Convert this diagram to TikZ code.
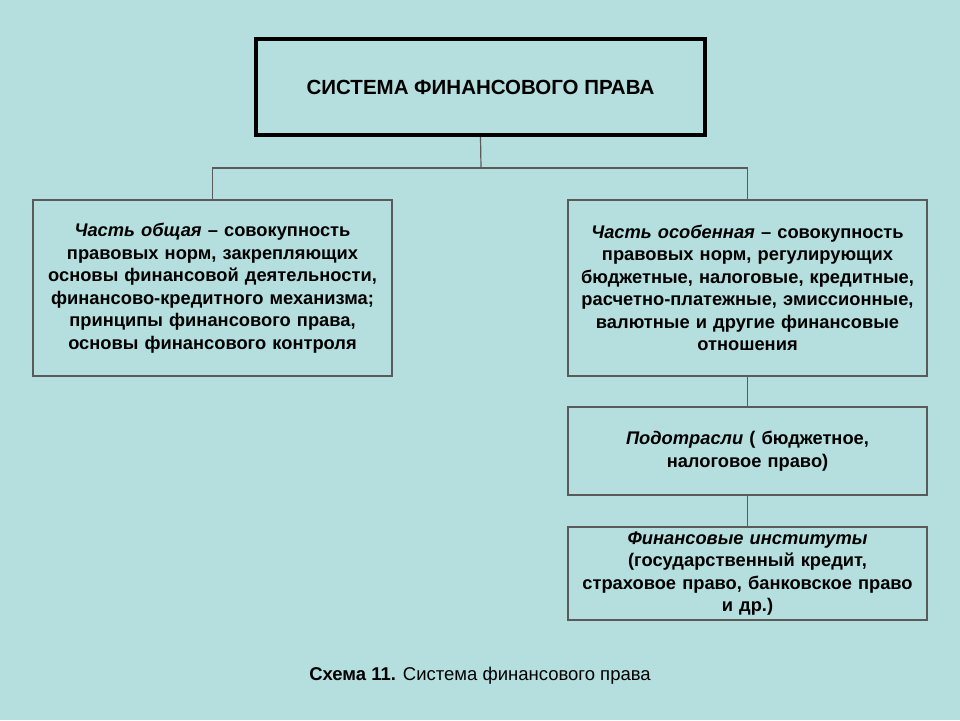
\documentclass[tikz,border=0pt]{standalone}
\usepackage{fontspec}
\setmainfont{Liberation Sans}
\usetikzlibrary{positioning}
\definecolor{bgteal}{RGB}{180,223,222}
\definecolor{linegray}{RGB}{90,90,90}
\tikzstyle{part} = [rectangle, draw=linegray, line width=1.2pt, text width=359pt, align=center, font=\fontsize{18.3}{22.5}\selectfont\bfseries, inner sep=0pt]
\tikzstyle{link} = [draw=linegray, line width=1.2pt]
\begin{document}
\begin{tikzpicture}[x=1pt,y=-1pt]
            \fill[bgteal] (0,0) rectangle (960,720);
            \node [rectangle, draw=black, line width=4pt, minimum width=449pt, minimum height=96pt, font=\fontsize{20.5}{24}\selectfont\bfseries] at (480.5,87) (title) {СИСТЕМА ФИНАНСОВОГО ПРАВА};
            \node [part, minimum height=176pt] at (212.5,288) (common) {\textit{Часть общая} -- совокупность\\правовых норм, закрепляющих\\основы финансовой деятельности,\\финансово-кредитного механизма;\\принципы финансового права,\\основы финансового контроля\\[10pt]};
            \node [part, minimum height=176pt] at (747.5,288) (special) {\textit{Часть особенная} -- совокупность\\правовых норм, регулирующих\\бюджетные, налоговые, кредитные,\\расчетно-платежные, эмиссионные,\\валютные и другие финансовые\\отношения\\[8pt]};
            \node [part, minimum height=88pt] at (747.5,451) (sub) {\textit{Подотрасли} ( бюджетное,\\налоговое право)};
            \node [part, minimum height=93pt] at (747.5,573.5) (inst) {\textit{Финансовые институты}\\(государственный кредит,\\страховое право, банковское право\\и др.)};
            \node [font=\fontsize{18.5}{22}\selectfont] at (480,676) (caption) {\textbf{Схема 11.} Система финансового права};
            \coordinate (split) at (481,168);
            \draw [link] (title.south) -- (split);
            \draw [link] (split) -| (common.north);
            \draw [link] (split) -| (special.north);
            \draw [link] (special.south) -- (sub.north);
            \draw [link] (sub.south) -- (inst.north);
\end{tikzpicture}
\end{document}
